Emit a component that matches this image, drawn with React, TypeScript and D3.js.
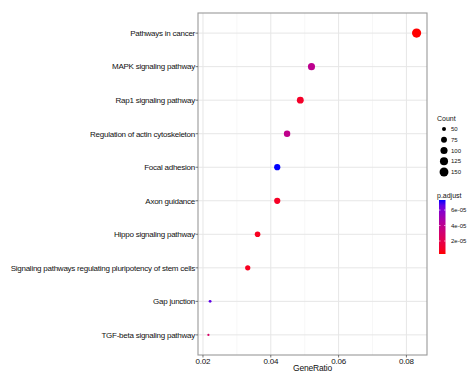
import React from "react";
import * as d3 from "d3";

const categories = [
  "Pathways in cancer",
  "MAPK signaling pathway",
  "Rap1 signaling pathway",
  "Regulation of actin cytoskeleton",
  "Focal adhesion",
  "Axon guidance",
  "Hippo signaling pathway",
  "Signaling pathways regulating pluripotency of stem cells",
  "Gap junction",
  "TGF-beta signaling pathway",
];
const geneRatio = [0.083, 0.052, 0.0487, 0.0448, 0.0419, 0.0419, 0.0361, 0.0332, 0.0221, 0.0216];
const counts = [160, 100, 94, 86, 81, 81, 70, 64, 43, 42];
const pAdjust = [3.2e-6, 4.0e-5, 1.0e-5, 3.9e-5, 7.3e-5, 9e-6, 8e-6, 8e-6, 6.6e-5, 2.8e-5];
const xTicks = [0.02, 0.04, 0.06, 0.08];
const xMinor = [0.03, 0.05, 0.07];
const countBreaks = [50, 75, 100, 125, 150];
const pBreaks = [2e-5, 4e-5, 6e-5];

const W = 474, H = 373;
const P = { left: 198, right: 427, top: 13, bottom: 355 };
const FONT = "'Liberation Sans', Arial, Helvetica, sans-serif";

export default function App() {
  const xr = d3.extent(geneRatio) as [number, number];
  const ex = (xr[1] - xr[0]) * 0.05;
  const x = d3.scaleLinear().domain([xr[0] - ex, xr[1] + ex]).range([P.left, P.right]);
  const y = d3.scalePoint<string>().domain(categories).range([P.top, P.bottom]).padding(0.6);

  const cExt = d3.extent(counts) as [number, number];
  const rScale = (c: number) => {
    const t = Math.max(0, (c - cExt[0]) / (cExt[1] - cExt[0]));
    return 1.1 + 3.5 * Math.sqrt(t);
  };
  const pExt = d3.extent(pAdjust) as [number, number];
  const color = d3.scaleLinear<string>().domain(pExt).range(["red", "blue"]).interpolate(d3.interpolateLab);

  const barTop = 200, barBot = 254, barX = 439, barW = 6.5;
  const pY = d3.scaleLinear().domain(pExt).range([barBot, barTop]);
  const stops = d3.range(0, 1.0001, 0.1);

  const legY = d3.scalePoint<number>().domain(countBreaks).range([129, 172]);

  return (
    <svg width={W} height={H} style={{ position: "absolute", left: 0, top: 0, background: "white" }} fontFamily={FONT}>
      <defs>
        <linearGradient id="pgrad" x1="0" y1="1" x2="0" y2="0">
          {stops.map((s) => (
            <stop key={s} offset={s} stopColor={color(pExt[0] + s * (pExt[1] - pExt[0]))} />
          ))}
        </linearGradient>
      </defs>
      <rect x={P.left} y={P.top} width={P.right - P.left} height={P.bottom - P.top} fill="white" />
      {xMinor.map((t) => (
        <line key={"m" + t} x1={x(t)} x2={x(t)} y1={P.top} y2={P.bottom} stroke="#f2f2f2" strokeWidth={0.6} />
      ))}
      {xTicks.map((t) => (
        <line key={"g" + t} x1={x(t)} x2={x(t)} y1={P.top} y2={P.bottom} stroke="#e6e6e6" strokeWidth={1} />
      ))}
      {categories.map((c) => (
        <line key={"h" + c} x1={P.left} x2={P.right} y1={y(c)} y2={y(c)} stroke="#e6e6e6" strokeWidth={1} />
      ))}
      {categories.map((c, i) => (
        <circle key={"p" + c} cx={x(geneRatio[i])} cy={y(c)} r={rScale(counts[i])} fill={color(pAdjust[i])} />
      ))}
      <rect x={P.left} y={P.top} width={P.right - P.left} height={P.bottom - P.top} fill="none" stroke="#9a9a9a" strokeWidth={1.1} />
      {categories.map((c) => (
        <g key={"yl" + c}>
          <line x1={P.left - 2.5} x2={P.left} y1={y(c)} y2={y(c)} stroke="#555" strokeWidth={0.8} />
          <text x={P.left - 3} y={y(c)} dy="0.35em" textAnchor="end" fontSize={8} letterSpacing={-0.25} fill="#111">{c}</text>
        </g>
      ))}
      {xTicks.map((t) => (
        <g key={"xl" + t}>
          <line x1={x(t)} x2={x(t)} y1={P.bottom} y2={P.bottom + 2.5} stroke="#555" strokeWidth={0.8} />
          <text x={x(t)} y={P.bottom + 8.5} textAnchor="middle" fontSize={8} letterSpacing={-0.2} fill="#111">{t.toFixed(2)}</text>
        </g>
      ))}
      <text x={(P.left + P.right) / 2} y={370.5} textAnchor="middle" fontSize={8.5} letterSpacing={-0.2} fill="#111">GeneRatio</text>

      <text x={437} y={121} fontSize={7} fill="#111">Count</text>
      {countBreaks.map((b) => (
        <g key={"cb" + b}>
          <circle cx={444} cy={legY(b)} r={rScale(b)} fill="black" />
          <text x={451} y={legY(b)} dy="0.35em" fontSize={6} fill="#111">{b}</text>
        </g>
      ))}

      <text x={437} y={198} fontSize={7} fill="#111">p.adjust</text>
      <rect x={barX} y={barTop} width={barW} height={barBot - barTop} fill="url(#pgrad)" />
      {pBreaks.map((b) => (
        <g key={"pb" + b}>
          <line x1={barX} x2={barX + 1.5} y1={pY(b)} y2={pY(b)} stroke="white" strokeWidth={0.6} />
          <line x1={barX + barW - 1.5} x2={barX + barW} y1={pY(b)} y2={pY(b)} stroke="white" strokeWidth={0.6} />
          <text x={451} y={pY(b)} dy="0.35em" fontSize={6} fill="#111">{`${Math.round(b * 1e5)}e-05`}</text>
        </g>
      ))}
    </svg>
  );
}
